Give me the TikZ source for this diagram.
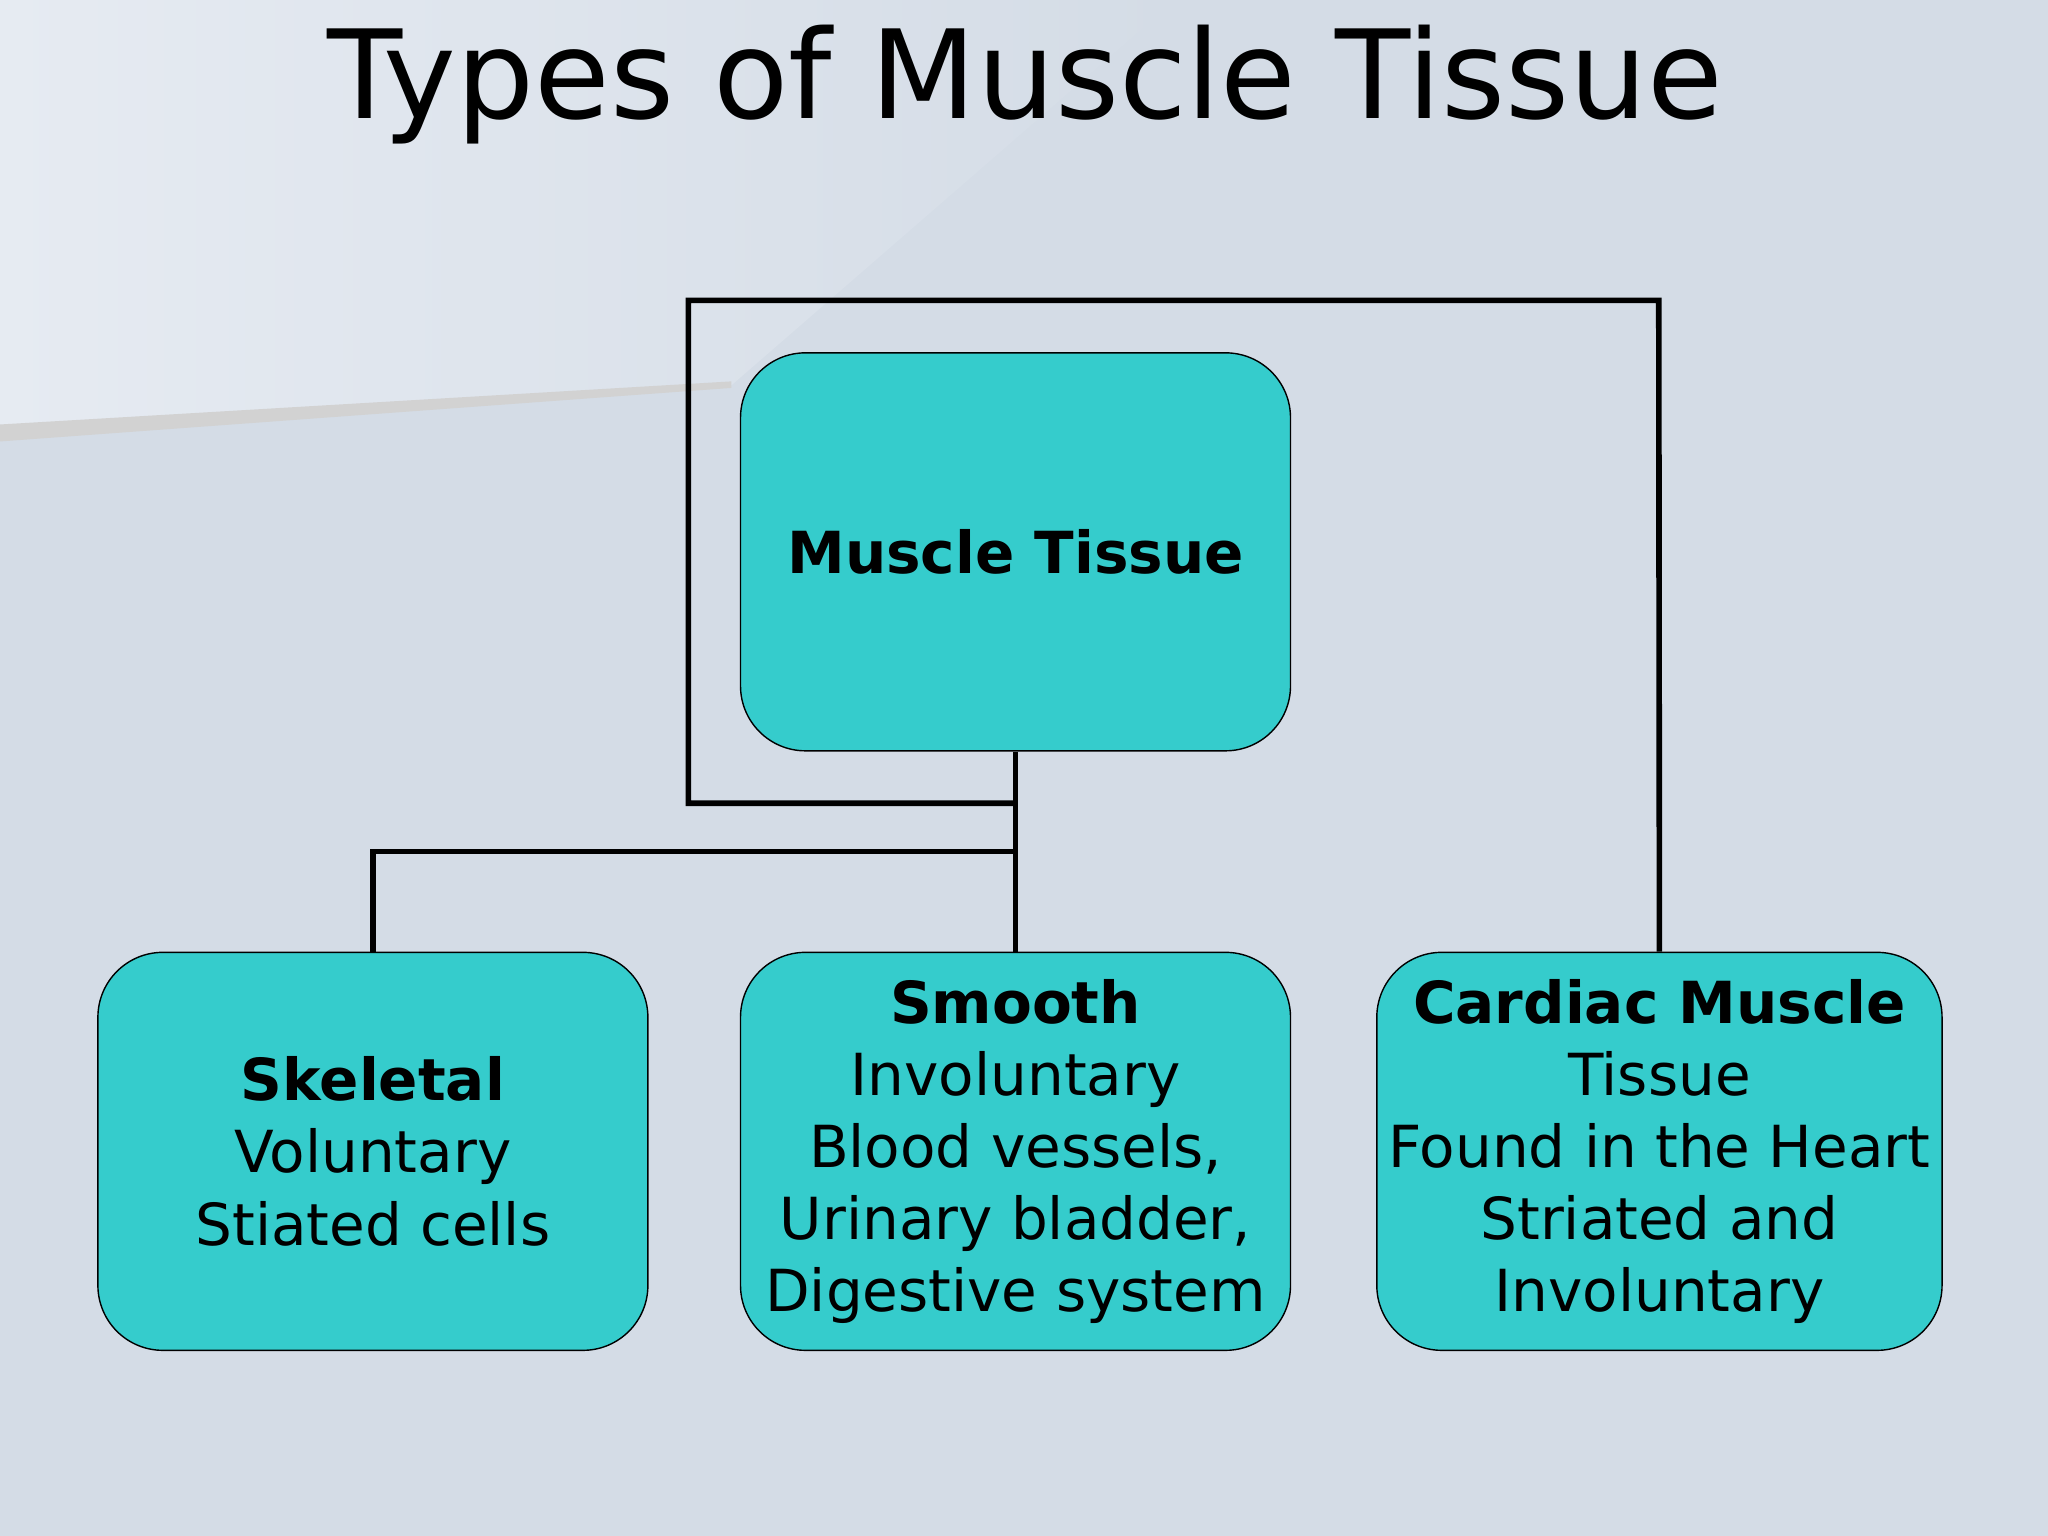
\documentclass[tikz,border=0pt]{standalone}
\usepackage{fontspec}
\setmainfont{DejaVu Sans}
\usetikzlibrary{positioning}
\definecolor{boxfill}{RGB}{53,204,204}
\definecolor{slide}{RGB}{212,220,230}
\definecolor{slidetop}{RGB}{230,235,242}
\tikzset{
  box/.style={draw=black, fill=boxfill, rounded corners=0.65cm,
    minimum width=5.5cm, minimum height=3.98cm, align=center,
    font=\fontsize{16.5}{20.5}\selectfont},
  link/.style={line width=1.6pt}
}
\begin{document}
\begin{tikzpicture}[x=0.01306cm,y=-0.01306cm]
\useasboundingbox (0,0) rectangle (1568,1176);
\fill[slide] (0,0) rectangle (1568,1176);
\shade[left color=slidetop, right color=slide] (0,0) -- (900,0) -- (560,295) -- (0,330) -- cycle;
\fill[gray!35] (0,325) -- (560,292) -- (560,297) -- (0,338) -- cycle;
\node (title) at (785,65) {\fontsize{35}{40}\selectfont Types of Muscle Tissue};
% boxes
\node[box] (tissue) at (777.5,422.5) {\textbf{Muscle Tissue}};
\node[box] (skeletal) at (285.5,881.5) {\textbf{Skeletal}\\Voluntary\\Stiated cells};
\node[box] (smooth) at (777.5,881.5) {\textbf{Smooth}\\Involuntary\\Blood vessels,\\Urinary bladder,\\Digestive system};
\node[box] (cardiac) at (1270.5,881.5) {\textbf{Cardiac Muscle}\\Tissue\\Found in the Heart\\Striated and\\Involuntary};
% connectors
\coordinate (loop) at (778,615);
\coordinate (fork) at (778,652);
\draw[link] (tissue.south) -- (smooth.north);
\draw[link] (loop) -- (527,615) -- (527,230) -- (1270,230) -- (cardiac.north);
\draw[link] (fork) -| (skeletal.north);
\end{tikzpicture}
\end{document}
